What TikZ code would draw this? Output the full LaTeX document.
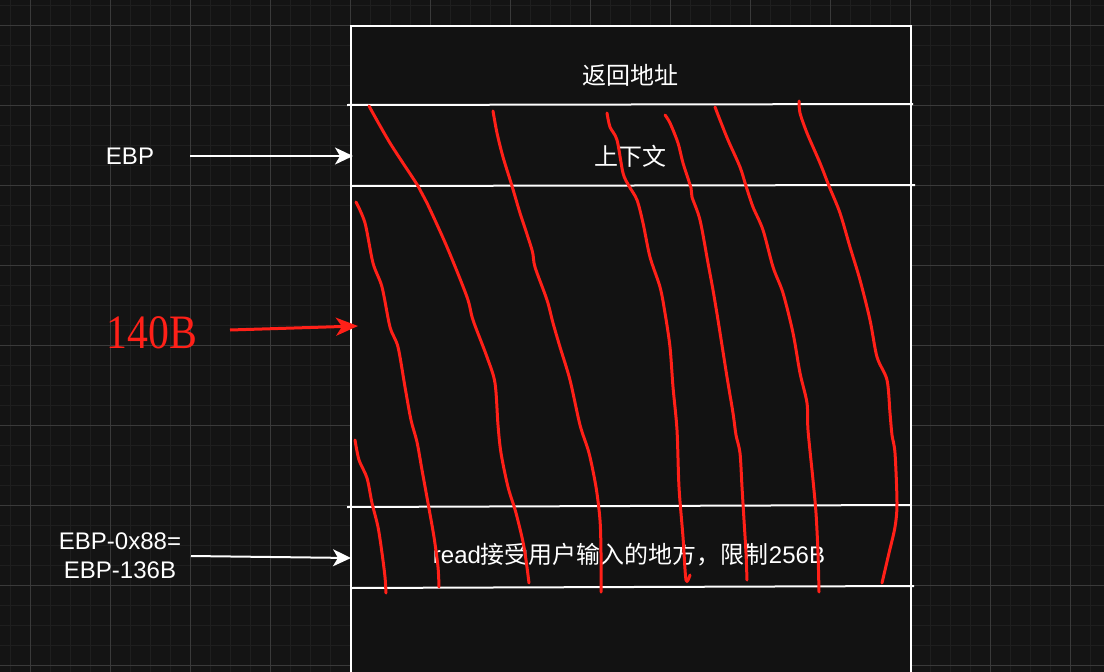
\documentclass[tikz,border=0pt]{standalone}
\usepackage{fontspec}
\setmainfont{Liberation Sans}
\newfontfamily\cjk{Noto Sans CJK SC}
\newfontfamily\serifx{Liberation Serif}
\usetikzlibrary{arrows.meta}
\definecolor{bgc}{HTML}{141414}
\definecolor{boxc}{HTML}{121212}
\definecolor{minorc}{HTML}{1F1F1F}
\definecolor{majorc}{HTML}{3A3A3A}
\definecolor{redc}{RGB}{255,32,24}
\tikzset{
  minorline/.style={minorc, line width=1pt},
  majorline/.style={majorc, line width=1pt},
  sepline/.style={white, line width=2pt},
  txt/.style={text=white, inner sep=0pt, font=\fontsize{24}{29}\selectfont},
  whitearrow/.style={white, line width=2pt, -{Stealth[length=18pt,width=17pt,inset=5pt]}},
  redarrow/.style={redc, line width=3pt, -{Stealth[length=22pt,width=18pt,inset=6pt]}},
  scribble/.style={redc, line width=3pt, line cap=round, line join=round}
}
\begin{document}
\begin{tikzpicture}[x=1pt,y=-1pt]
\fill[bgc] (0,0) rectangle (1104,672);
\useasboundingbox (0,0) rectangle (1104,672);
\begin{scope}
\clip (0,0) rectangle (1104,672);
\foreach \x in {10,30,...,1090} \draw[minorline] (\x,0) -- (\x,672);
\foreach \y in {5,25,...,665} \draw[minorline] (0,\y) -- (1104,\y);
\foreach \x in {30,110,...,1070} \draw[majorline] (\x,0) -- (\x,672);
\foreach \y in {25,105,...,665} \draw[majorline] (0,\y) -- (1104,\y);
% stack box
\draw[white, line width=2pt, fill=boxc] (351,26) rectangle (911,690);
\end{scope}
\draw[sepline] (347,105) -- (913,104);
\draw[sepline] (351,186) -- (915,185);
\draw[sepline] (347,507) -- (910,505);
\draw[sepline] (351,588) -- (914,586);
% texts in box
\node[txt] (ret) at (630,75) {\cjk 返回地址};
\node[txt] (ctx) at (630,156) {\cjk 上下文};
\node[txt] (buf) at (629,555) {read{\cjk 接受用户输入的地方，限制}256B};
% left labels
\node[txt] (ebp) at (130,156) {EBP};
\node[txt, align=center] (ebp88) at (120,556) {EBP-0x88=\\EBP-136B};
\node[inner sep=0pt, text=redc] (size) at (152,333) {\scalebox{0.87}[1]{\serifx\fontsize{48}{48}\selectfont 140B}};
% red scribbles
\draw[scribble] plot[smooth, tension=0.5] coordinates {(369,106) (390,143) (418,186) (427,203) (447,247) (467,297) (473,320) (487,357) (495,383) (498,425) (501,453) (508,487) (516,513) (524,547) (529,583)};
\draw[scribble] plot[smooth, tension=0.5] coordinates {(356,202) (365,223) (373,263) (382,287) (390,327) (398,347) (405,387) (411,420) (417,442) (422,470) (428,503) (434,537) (438,567) (439,587)};
\draw[scribble] plot[smooth, tension=0.5] coordinates {(355,440) (359,460) (367,478) (372,503) (378,527) (382,553) (385,577) (386,593)};
\draw[scribble] plot[smooth, tension=0.5] coordinates {(493,111) (497,133) (503,157) (512,186) (520,213) (532,250) (535,267) (547,300) (553,323) (560,347) (570,380) (580,425) (589,453) (596,487) (600,520) (601,553) (601,592)};
\draw[scribble] plot[smooth, tension=0.5] coordinates {(607,113) (610,127) (617,140) (623,173) (629,186) (637,200) (643,223) (650,257) (660,287) (665,313) (670,347) (673,387) (677,430) (679,487) (683,537) (686,580) (690,575)};
\draw[scribble] plot[smooth, tension=0.5] coordinates {(665,115) (670,123) (678,143) (683,163) (691,188) (692,197) (700,220) (708,263) (713,290) (718,320) (727,377) (733,413) (736,435) (740,453) (742,487) (744,520) (746,553) (747,580)};
\draw[scribble] plot[smooth, tension=0.5] coordinates {(715,107) (720,120) (728,140) (740,167) (746,186) (753,207) (763,230) (773,267) (783,293) (793,333) (800,373) (807,403) (808,430) (813,480) (816,513) (818,553) (819,592)};
\draw[scribble] plot[smooth, tension=0.5] coordinates {(799,101) (800,113) (807,133) (820,163) (829,186) (840,213) (850,247) (860,280) (870,320) (877,357) (887,380) (890,413) (892,435) (895,453) (897,503) (895,527) (889,553) (882,583)};
% arrows
\coordinate (ebpS) at (190,156);
\coordinate (ebpT) at (353,156);
\draw[whitearrow] (ebpS) -- (ebpT);
\coordinate (bufS) at (191,556);
\coordinate (bufT) at (351,558);
\draw[whitearrow] (bufS) -- (bufT);
\coordinate (redS) at (230,330);
\coordinate (redT) at (358,326);
\draw[redarrow] (redS) -- (redT);
\end{tikzpicture}
\end{document}
